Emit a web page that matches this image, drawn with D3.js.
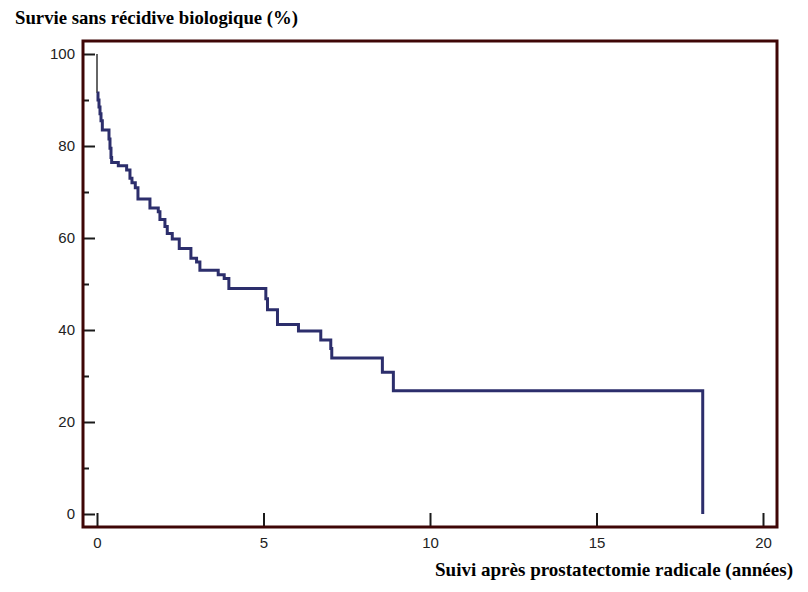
<!DOCTYPE html>
<html>
<head>
<meta charset="utf-8">
<script src="https://cdn.jsdelivr.net/npm/d3@7"></script>
<style>
  html, body { margin: 0; padding: 0; background: #fff; }
  svg { display: block; }
</style>
</head>
<body>
<svg id="s" width="808" height="592"></svg>
<script>
// Data
const yMajor = [0, 20, 40, 60, 80, 100],
  yMinor = [10, 30, 50, 70, 90],
  xMajor = [0, 5, 10, 15, 20],
  // first drop, drawn thin
  firstDrop = [[0, 100], [0, 91.5]],
  // [years, survival % after the drop]
  times = [0, 0.03, 0.06, 0.09, 0.12, 0.16, 0.36, 0.39, 0.42, 0.44, 0.64, 0.89, 0.99, 1.05, 1.15, 1.23,
    1.59, 1.84, 1.89, 2.04, 2.11, 2.26, 2.47, 2.82, 2.99, 3.09, 3.64, 3.82, 3.96, 5.07, 5.12, 5.42,
    6.05, 6.72, 7.02, 7.05, 8.57, 8.9, 18.19],
  surv = [91.5, 90, 88.5, 87, 85.5, 83.5, 81.5, 79.5, 77.5, 76.4, 75.7, 74.8, 73, 72, 70.9, 68.5,
    66.5, 65.7, 64, 62.5, 61, 59.8, 57.7, 55.6, 54.8, 53, 52, 51.2, 49, 46.8, 44.4, 41.2,
    39.8, 37.8, 36, 33.9, 30.8, 26.8, 0];

const svg = d3.select("#s"),
  x = d3.scaleLinear([0, 20], [97, 763]),
  y = d3.scaleLinear([0, 100], [514, 54]),
  frame = { l: 83, t: 41, r: 777, b: 527 };

// ticks inside the frame
svg.append("g")
  .attr("transform", `translate(${frame.l},0)`)
  .call(d3.axisRight(y).tickValues(yMajor).tickSize(12).tickFormat(""))
  .call(g => g.select(".domain").remove());
svg.append("g")
  .attr("transform", `translate(${frame.l},0)`)
  .call(d3.axisRight(y).tickValues(yMinor).tickSize(6).tickFormat(""))
  .call(g => g.select(".domain").remove());
svg.append("g")
  .attr("transform", `translate(0,${frame.b})`)
  .call(d3.axisTop(x).tickValues(xMajor).tickSize(14).tickFormat(""))
  .call(g => g.select(".domain").remove());
svg.selectAll(".tick line").attr("stroke", "#1a1a1a").attr("stroke-width", 2);

// labels
svg.append("g")
  .attr("transform", `translate(${frame.l},0)`)
  .call(d3.axisLeft(y).tickValues(yMajor).tickSize(0).tickPadding(8))
  .call(g => g.select(".domain").remove())
  .call(g => g.selectAll("text").attr("font-family", "Liberation Sans, Arial, sans-serif")
    .attr("font-size", 15).attr("fill", "#222"));
svg.append("g")
  .attr("transform", `translate(0,${frame.b})`)
  .call(d3.axisBottom(x).tickValues(xMajor).tickSize(0).tickPadding(10))
  .call(g => g.select(".domain").remove())
  .call(g => g.selectAll("text").attr("font-family", "Liberation Sans, Arial, sans-serif")
    .attr("font-size", 15).attr("fill", "#222"));

// frame
svg.append("rect")
  .attr("x", frame.l).attr("y", frame.t)
  .attr("width", frame.r - frame.l).attr("height", frame.b - frame.t)
  .attr("fill", "none").attr("stroke", "#3f0606").attr("stroke-width", 3);

// curve
const line = d3.line().x(d => x(d[0])).y(d => y(d[1]));
svg.append("path")
  .attr("d", line(firstDrop))
  .attr("fill", "none").attr("stroke", "#333").attr("stroke-width", 1.5);
svg.append("path")
  .attr("d", line.curve(d3.curveStepAfter)(d3.zip(times, surv)))
  .attr("fill", "none").attr("stroke", "#2c2e6c").attr("stroke-width", 3);

// titles
svg.append("text")
  .attr("x", 15).attr("y", 24)
  .attr("font-family", "Liberation Serif, Times New Roman, serif")
  .attr("font-weight", "bold").attr("font-size", 19)
  .attr("textLength", 283).attr("lengthAdjust", "spacingAndGlyphs")
  .text("Survie sans récidive biologique (%)");
svg.append("text")
  .attr("x", 793).attr("y", 576).attr("text-anchor", "end")
  .attr("font-family", "Liberation Serif, Times New Roman, serif")
  .attr("font-weight", "bold").attr("font-size", 19)
  .attr("textLength", 358).attr("lengthAdjust", "spacingAndGlyphs")
  .text("Suivi après prostatectomie radicale (années)");
</script>
</body>
</html>
